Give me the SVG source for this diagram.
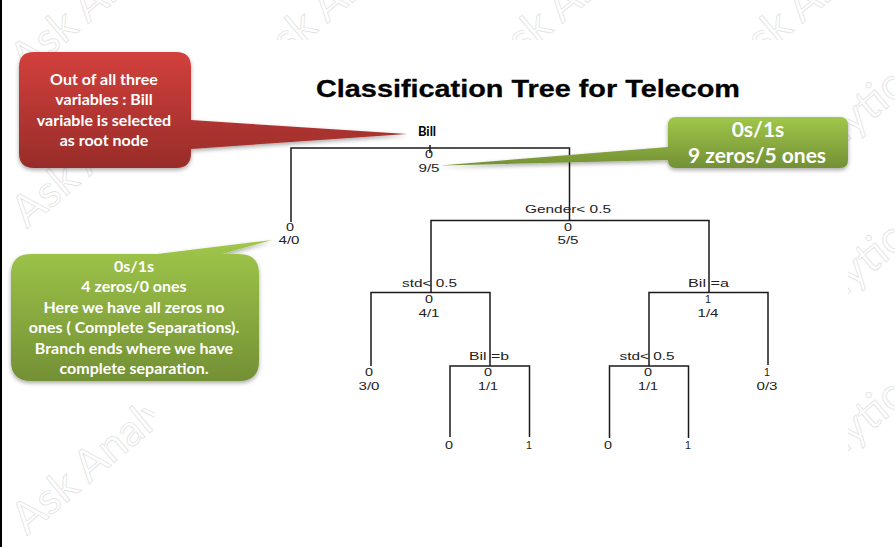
<svg xmlns="http://www.w3.org/2000/svg" width="895" height="547" viewBox="0 0 895 547">
<style>
.t{font-family:"Liberation Sans",Arial,sans-serif;font-size:11.5px;fill:#222;text-anchor:middle}
.c{font-family:Lato,"Open Sans",sans-serif;font-weight:700;font-size:16px;fill:#fff;text-anchor:middle}
.h{font-family:Lato,"Open Sans",sans-serif;font-weight:700;font-size:21px;fill:#fff;text-anchor:middle}
.w{font-family:Lato,"Open Sans",sans-serif;font-size:44px;fill:#fff;stroke:#dedede;stroke-width:.7}
.l{fill:none;stroke:#1a1a1a;stroke-width:1.5}
.s{filter:url(#sh)}
</style>
<defs>
<linearGradient id="r" x1="0" y1="0" x2="0" y2="1"><stop offset="0" stop-color="#d2403c"/><stop offset="1" stop-color="#982c29"/></linearGradient>
<linearGradient id="g" x1="0" y1="0" x2="0" y2="1"><stop offset="0" stop-color="#a0c74a"/><stop offset="1" stop-color="#739035"/></linearGradient>
<filter id="sh" x="-10%" y="-10%" width="120%" height="125%"><feDropShadow dx="0" dy="2" stdDeviation="2" flood-color="#000" flood-opacity=".35"/></filter>
<clipPath id="top"><rect x="157" y="0" width="738" height="40"/></clipPath>
<clipPath id="left"><rect x="0" y="0" width="155" height="547"/></clipPath>
<clipPath id="right"><rect x="848" y="0" width="47" height="547"/></clipPath>
</defs>
<rect width="895" height="547" fill="#fff"/>
<rect width="2" height="547" fill="#000"/>
<g id="watermarks">
<g clip-path="url(#top)">
<text class="w" transform="translate(265 76) rotate(-40)">Ask Analytics</text>
<text class="w" transform="translate(500 76) rotate(-40)">Ask Analytics</text>
<text class="w" transform="translate(740 76) rotate(-40)">Ask Analytics</text>
</g>
<g clip-path="url(#left)">
<text class="w" transform="translate(26 76) rotate(-40)">Ask Analytics</text>
<text class="w" transform="translate(27 229) rotate(-40)">Ask Analytics</text>
<text class="w" transform="translate(27 536) rotate(-40)">Ask Analytics</text>
</g>
<g clip-path="url(#right)">
<text class="w" transform="translate(725 244) rotate(-40)">Ask Analytics</text>
<text class="w" transform="translate(725 397) rotate(-40)">Ask Analytics</text>
<text class="w" transform="translate(725 554) rotate(-40)">Ask Analytics</text>
</g>
</g>
<text id="title" x="528" y="97" textLength="424" lengthAdjust="spacingAndGlyphs" font-family="'Liberation Sans',Arial,sans-serif" font-weight="700" font-size="24.500" text-anchor="middle" fill="#000" stroke="#000" stroke-width=".3">Classification Tree for Telecom</text>
<g id="connectors">
<path class="l" d="M430 145V153M291 222V148H569.500V220.500M431 293V220.500H709V293M371 366V292.500H490V366M450 437V366H529.500V437M649 366V292.500H768V365M609.500 438V366H688.500V438"/>
</g>
<g id="node-root"><text x="427" y="136" font-family="Lato,sans-serif" font-weight="700" font-size="13" text-anchor="middle" fill="#000">Bill</text><text class="t" x="429" y="158" textLength="8" lengthAdjust="spacingAndGlyphs">0</text><text class="t" x="429" y="172" textLength="21" lengthAdjust="spacingAndGlyphs">9/5</text></g>
<g id="node-left"><text class="t" x="290" y="231" textLength="8" lengthAdjust="spacingAndGlyphs">0</text><text class="t" x="289" y="244" textLength="21" lengthAdjust="spacingAndGlyphs">4/0</text></g>
<g id="node-gender"><text class="t" x="568" y="213" textLength="86" lengthAdjust="spacingAndGlyphs">Gender&lt; 0.5</text><text class="t" x="568" y="231" textLength="8" lengthAdjust="spacingAndGlyphs">0</text><text class="t" x="568" y="244" textLength="21" lengthAdjust="spacingAndGlyphs">5/5</text></g>
<g id="node-std1"><text class="t" x="429.500" y="287" textLength="55" lengthAdjust="spacingAndGlyphs">std&lt; 0.5</text><text class="t" x="429" y="303" textLength="8" lengthAdjust="spacingAndGlyphs">0</text><text class="t" x="429" y="317" textLength="21" lengthAdjust="spacingAndGlyphs">4/1</text></g>
<g id="node-bill-a"><text class="t" x="708.500" y="287" textLength="41" lengthAdjust="spacingAndGlyphs">Bil =a</text><text class="t" x="708" y="303" textLength="6" lengthAdjust="spacingAndGlyphs">1</text><text class="t" x="708" y="317" textLength="21" lengthAdjust="spacingAndGlyphs">1/4</text></g>
<g id="node-30"><text class="t" x="369" y="376" textLength="8" lengthAdjust="spacingAndGlyphs">0</text><text class="t" x="369" y="390" textLength="21" lengthAdjust="spacingAndGlyphs">3/0</text></g>
<g id="node-bill-b"><text class="t" x="489" y="360" textLength="40" lengthAdjust="spacingAndGlyphs">Bil =b</text><text class="t" x="488" y="376" textLength="8" lengthAdjust="spacingAndGlyphs">0</text><text class="t" x="488" y="390" textLength="20" lengthAdjust="spacingAndGlyphs">1/1</text></g>
<g id="node-std2"><text class="t" x="647" y="360" textLength="55" lengthAdjust="spacingAndGlyphs">std&lt; 0.5</text><text class="t" x="648" y="376" textLength="8" lengthAdjust="spacingAndGlyphs">0</text><text class="t" x="648" y="390" textLength="20" lengthAdjust="spacingAndGlyphs">1/1</text></g>
<g id="node-03"><text class="t" x="767" y="376" textLength="6" lengthAdjust="spacingAndGlyphs">1</text><text class="t" x="767" y="390" textLength="21" lengthAdjust="spacingAndGlyphs">0/3</text></g>
<g id="leaf-1"><text class="t" x="449" y="449" textLength="8" lengthAdjust="spacingAndGlyphs">0</text></g>
<g id="leaf-2"><text class="t" x="529" y="449" textLength="6" lengthAdjust="spacingAndGlyphs">1</text></g>
<g id="leaf-3"><text class="t" x="608" y="449" textLength="8" lengthAdjust="spacingAndGlyphs">0</text></g>
<g id="leaf-4"><text class="t" x="688" y="449" textLength="6" lengthAdjust="spacingAndGlyphs">1</text></g>
<g id="callout-red">
<path class="s" fill="url(#r)" d="M34 52H176Q191 52 191 67V120L407 134L191 149V153Q191 168 176 168H34Q19 168 19 153V67Q19 52 34 52Z"/>
<text class="c" x="104" y="85">Out of all three</text><text class="c" x="104" y="105">variables :  Bill</text><text class="c" x="104" y="126">variable is selected</text><text class="c" x="104" y="146">as root node</text>
</g>
<g id="callout-green-root">
<path class="s" fill="url(#g)" d="M676 117H840Q848 117 848 125V160Q848 168 840 168H676Q668 168 668 160L440 165.500L668 147V125Q668 117 676 117Z"/>
<text class="h" x="758" y="137">0s/1s</text>
<text class="h" x="757" y="163">9 zeros/5 ones</text>
</g>
<g id="callout-green-left">
<path class="s" fill="url(#g)" d="M31 254H157L272 240L222 254H239Q259 254 259 274V361Q259 381 239 381H31Q11 381 11 361V274Q11 254 31 254Z"/>
<text class="c" x="134" y="272">0s/1s</text><text class="c" x="134" y="292">4 zeros/0 ones</text><text class="c" x="134" y="313">Here we have all zeros no</text><text class="c" x="134" y="333">ones ( Complete Separations).</text><text class="c" x="134" y="354">Branch ends where we have</text><text class="c" x="134" y="374">complete separation.</text>
</g>
</svg>
